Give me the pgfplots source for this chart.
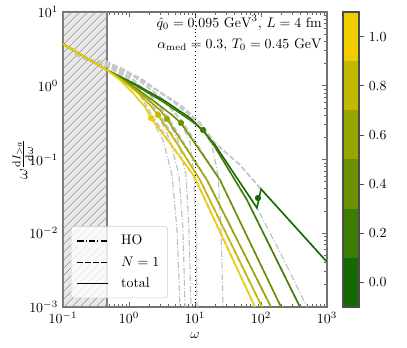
\documentclass[border=0pt]{standalone}
\usepackage{pgfplots}
\pgfplotsset{compat=1.18}
\usetikzlibrary{patterns.meta}
\definecolor{cA}{RGB}{20,105,0}
\definecolor{cB}{RGB}{60,125,0}
\definecolor{cC}{RGB}{105,145,0}
\definecolor{cD}{RGB}{150,165,0}
\definecolor{cE}{RGB}{195,185,0}
\definecolor{cF}{RGB}{240,205,0}
\definecolor{hogray}{RGB}{190,190,190}
\definecolor{nogray}{RGB}{200,200,200}
\begin{document}
\begin{tikzpicture}
\begin{axis}[
  at={(0,0)}, anchor=south west,
  scale only axis, width=190.08pt, height=212.4pt,
  xmode=log, ymode=log,
  xmin=0.1, xmax=1000, ymin=1e-3, ymax=10,
  axis line style={black!55, line width=0.9pt},
  tick align=inside,
  major tick length=3.5pt, minor tick length=2pt,
  every tick/.style={black!60, line width=0.5pt},
  xlabel={$\omega$},
  ylabel={\large$\omega\frac{\mathrm{d}I_{>a}}{\mathrm{d}\omega}$},
  ylabel style={at={(axis description cs:-0.152,0.5)}, anchor=center},
  legend style={at={(0.03,0.03)}, anchor=south west, fill=white, fill opacity=0.8,
    draw opacity=1, text opacity=1, draw=black!20, rounded corners=2pt,
    row sep=3pt, inner sep=4pt,
    /tikz/every odd column/.append style={column sep=7pt}},
  legend cell align=left,
  legend image code/.code={\draw[#1] (0pt,0pt) -- (22pt,0pt);},
  clip=true,
]
% excluded region
\addplot[draw=none, fill=black!9, forget plot] coordinates {(0.1,0.001)(0.4642,0.001)(0.4642,10)(0.1,10)} -- cycle;
\addplot[draw=black!50, line width=0.8pt, pattern={Lines[angle=45,distance=4pt,line width=0.4pt]}, pattern color=black!50, forget plot] coordinates {(0.1,0.001)(0.4642,0.001)(0.4642,10)(0.1,10)} -- cycle;

% HO curves
\pgfplotsset{ho/.style={hogray, line width=0.8pt, dash pattern=on 4.5pt off 1.5pt on 0.8pt off 1.5pt, forget plot}}
\addplot[ho] coordinates {(0.1,3.682)(0.4642,1.635)(1.233,1.056)(3.511,0.6213)(8.399,0.3653)(14.18,0.2287)(20.09,0.1573)(40.37,0.06163)(86.97,0.0220)(208.1,0.004914)(497.7,0.001)(731,0.0005)};
\addplot[ho] coordinates {(0.1,3.682)(0.4642,1.635)(1.233,1.024)(3.511,0.5835)(8.399,0.3432)(13.22,0.2512)(18.10,0.1573)(22.31,0.06163)(24.77,0.01107)(26.56,0.001)(27.3,0.00036)};
\addplot[ho] coordinates {(0.1,3.682)(0.4642,1.635)(1.0355,1.056)(2.477,0.6021)(4.482,0.4011)(6.136,0.3125)(8.399,0.1727)(9.657,0.06163)(10.35,0.01107)(10.72,0.001)(11.0,0.00036)};
\addplot[ho] coordinates {(0.1,3.682)(0.4642,1.635)(0.8697,1.124)(1.748,0.7038)(2.950,0.4690)(3.765,0.3541)(5.526,0.1838)(7.305,0.06163)(8.111,0.01107)(8.697,0.001)(9.0,0.00036)};
\addplot[ho] coordinates {(0.1,3.682)(0.4642,1.635)(0.7834,1.197)(1.369,0.7973)(2.081,0.5483)(2.750,0.4011)(4.181,0.1838)(5.722,0.06163)(6.579,0.01107)(7.055,0.001)(7.3,0.00036)};
\addplot[ho] coordinates {(0.1,3.682)(0.4642,1.635)(0.7305,1.197)(1.1498,0.7973)(1.748,0.5151)(2.154,0.3653)(3.275,0.1838)(4.482,0.06163)(5.337,0.01107)(5.925,0.001)(6.136,0.00036)};

% N=1 curves
\pgfplotsset{no/.style={nogray, line width=1.4pt, dash pattern=on 4pt off 1.7pt, forget plot}}
\addplot[no] coordinates {(0.152,2.70)(0.2154,2.31)(0.3053,2.17)(0.4642,2.099)(0.8697,1.635)(1.748,1.090)(3.511,0.7492)(6.579,0.5151)(11.91,0.3125)(20.09,0.1674)(48.07,0.0842)(100,0.03981)(1000,0.004075)};
\addplot[no] coordinates {(0.152,2.70)(0.2154,2.31)(0.3053,2.17)(0.4642,2.034)(1.468,1.274)(4.977,0.5835)(13.22,0.2759)(20.09,0.1477)(61.36,0.02824)(389.9,0.001)(572,0.0005)};
\addplot[no] coordinates {(0.152,2.70)(0.2154,2.31)(0.3053,2.15)(0.4642,2.034)(1.233,1.314)(2.950,0.7038)(6.136,0.3432)(23.92,0.05273)(200.9,0.001)(292,0.0005)};
\addplot[no] coordinates {(0.152,2.70)(0.2154,2.31)(0.3053,2.13)(0.4642,1.972)(1.0355,1.314)(2.081,0.7492)(3.765,0.3889)(15.20,0.05273)(141.8,0.001)(209,0.0005)};
\addplot[no] coordinates {(0.152,2.70)(0.2154,2.31)(0.3053,2.11)(0.4642,1.911)(0.9326,1.314)(1.748,0.7492)(2.750,0.4406)(11.91,0.05273)(103.6,0.001)(151,0.0005)};
\addplot[no] coordinates {(0.152,2.70)(0.2154,2.31)(0.3053,2.09)(0.4642,1.853)(0.8697,1.274)(1.468,0.7492)(2.154,0.4139)(4.482,0.1524)(9.657,0.05974)(81.1,0.001)(116.4,0.0005)};

% vertical reference
\addplot[black, dotted, line width=0.7pt, forget plot] coordinates {(10,0.001)(10,10)};

% totals
\pgfplotsset{tot/.style={line width=1.1pt, forget plot}}
\addplot[tot, cA] coordinates {(0.1,3.682)(0.4642,1.635)(1.233,1.056)(3.511,0.6213)(8.399,0.3653)(14.18,0.2287)(20.09,0.1573)(40.37,0.06163)(86.97,0.0220)(100,0.03981)(1000,0.004075)};
\addplot[tot, cB] coordinates {(0.1,3.682)(0.4642,1.635)(1.233,1.024)(3.511,0.5835)(8.399,0.3432)(13.22,0.2512)(20.09,0.1477)(61.36,0.02824)(389.9,0.001)(572,0.0005)};
\addplot[tot, cC] coordinates {(0.1,3.682)(0.4642,1.635)(1.0355,1.056)(2.477,0.6021)(4.482,0.4011)(6.136,0.3125)(23.92,0.05273)(200.9,0.001)(292,0.0005)};
\addplot[tot, cD] coordinates {(0.1,3.682)(0.4642,1.635)(0.8697,1.124)(1.748,0.7038)(2.950,0.4690)(3.765,0.3541)(15.20,0.05273)(141.8,0.001)(209,0.0005)};
\addplot[tot, cE] coordinates {(0.1,3.682)(0.4642,1.635)(0.7834,1.197)(1.369,0.7973)(2.081,0.5483)(2.750,0.4011)(5.526,0.1573)(11.91,0.05273)(103.6,0.001)(151,0.0005)};
\addplot[tot, cF] coordinates {(0.1,3.682)(0.4642,1.635)(0.7305,1.197)(1.1498,0.7973)(1.748,0.5151)(2.154,0.3653)(4.482,0.1524)(9.657,0.05974)(81.1,0.001)(116.4,0.0005)};

% markers
\pgfplotsset{mk/.style={only marks, mark=*, mark size=2pt, forget plot}}
\addplot[mk, cA] coordinates {(90.06,0.03006)};
\addplot[mk, cB] coordinates {(13.22,0.2512)};
\addplot[mk, cC] coordinates {(6.136,0.3125)};
\addplot[mk, cD] coordinates {(3.765,0.3541)};
\addplot[mk, cE] coordinates {(2.750,0.4011)};
\addplot[mk, cF] coordinates {(2.154,0.3653)};

\node[anchor=east, inner sep=0pt] at (rel axis cs:0.981,0.963) {$\hat{q}_0 = 0.095~\mathrm{GeV}^3$, $L = 4~\mathrm{fm}$};
\node[anchor=east, inner sep=0pt] at (rel axis cs:0.981,0.888) {$\alpha_{\mathrm{med}} = 0.3$, $T_0 = 0.45~\mathrm{GeV}$};

\addlegendimage{black, line width=1pt, dash pattern=on 4.5pt off 1.5pt on 0.8pt off 1.5pt}
\addlegendentry{HO}
\addlegendimage{black, line width=1pt, dash pattern=on 4pt off 1.7pt}
\addlegendentry{$N=1$}
\addlegendimage{black, line width=1pt}
\addlegendentry{total}
\end{axis}

% colorbar
\begin{axis}[
  at={(201.6pt,0)}, anchor=south west,
  scale only axis, width=11.52pt, height=212.4pt,
  xmin=0, xmax=1, ymin=-0.1, ymax=1.1,
  xtick=\empty,
  ytick={0,0.2,0.4,0.6,0.8,1.0},
  yticklabel pos=right, ytick pos=right,
  tick align=outside, major tick length=3.5pt,
  every tick/.style={black!70, line width=0.5pt},
  yticklabel style={/pgf/number format/.cd, fixed, fixed zerofill, precision=1},
  axis line style={black!70, line width=0.8pt},
  axis on top,
]
\addplot[fill=cA, draw=none] coordinates {(0,-0.1)(1,-0.1)(1,0.1)(0,0.1)} -- cycle;
\addplot[fill=cB, draw=none] coordinates {(0,0.1)(1,0.1)(1,0.3)(0,0.3)} -- cycle;
\addplot[fill=cC, draw=none] coordinates {(0,0.3)(1,0.3)(1,0.5)(0,0.5)} -- cycle;
\addplot[fill=cD, draw=none] coordinates {(0,0.5)(1,0.5)(1,0.7)(0,0.7)} -- cycle;
\addplot[fill=cE, draw=none] coordinates {(0,0.7)(1,0.7)(1,0.9)(0,0.9)} -- cycle;
\addplot[fill=cF, draw=none] coordinates {(0,0.9)(1,0.9)(1,1.1)(0,1.1)} -- cycle;
\node[rotate=90, anchor=north, inner sep=0pt] at ([xshift=19pt]rel axis cs:1,0.5) {$R$};
\end{axis}
\pgfresetboundingbox
\path (-45.36pt,-29.52pt) rectangle (247.68pt,221.04pt);
\end{tikzpicture}
\end{document}
